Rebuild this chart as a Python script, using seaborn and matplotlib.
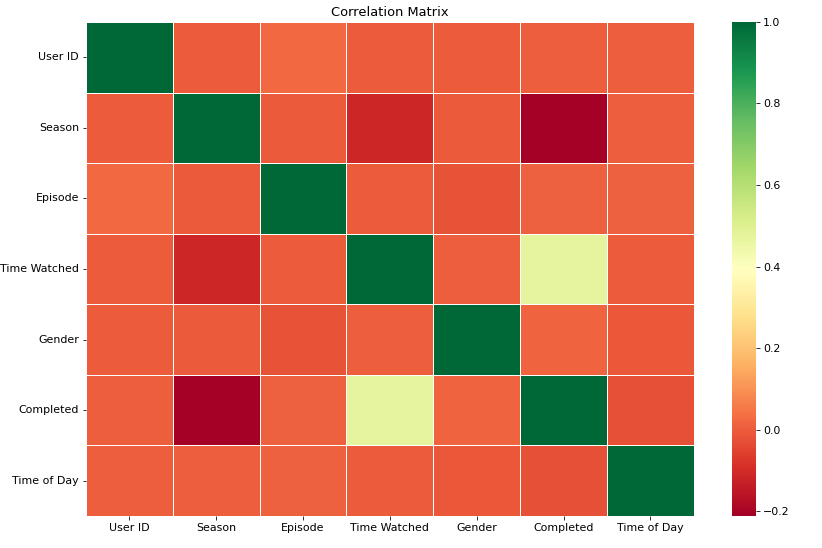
import numpy as np
import pandas as pd
import matplotlib
matplotlib.use('Agg')
import matplotlib.pyplot as plt
import seaborn as sns

# column names of the correlation matrix
cols = ['User ID', 'Season', 'Episode', 'Time Watched', 'Gender', 'Completed', 'Time of Day']

# correlation values (rows in the same order as cols)
r_user = [1.0, 0.0, 0.02, 0.0, 0.0, 0.005, 0.005]
r_season = [0.0, 1.0, -0.005, -0.115, -0.005, -0.212, 0.005]
r_episode = [0.02, -0.005, 1.0, 0.0, -0.02, 0.01, 0.01]
r_watched = [0.0, -0.115, 0.0, 1.0, 0.005, 0.47, 0.0]
r_gender = [0.0, -0.005, -0.02, 0.005, 1.0, 0.015, -0.01]
r_completed = [0.005, -0.212, 0.01, 0.47, 0.015, 1.0, -0.025]
r_timeofday = [0.005, 0.005, 0.01, 0.0, -0.01, -0.025, 1.0]

corr = pd.DataFrame([r_user, r_season, r_episode, r_watched, r_gender, r_completed, r_timeofday],
                    index=cols, columns=cols)

plt.rcParams['font.size'] = 11

fig = plt.figure(figsize=(822 / 72, 548 / 72), dpi=72)
ax = fig.add_axes([0.1046, 0.0584, 0.7394, 0.9016])
cax = fig.add_axes([0.8905, 0.0584, 0.0292, 0.9016])

sns.heatmap(corr, cmap='RdYlGn', linewidths=1, linecolor='white', ax=ax, cbar_ax=cax)
ax.set_title('Correlation Matrix', fontsize=13)
ax.tick_params(axis='y', rotation=0)
ax.tick_params(axis='x', rotation=0)

fig.savefig('out.png', dpi=72)
